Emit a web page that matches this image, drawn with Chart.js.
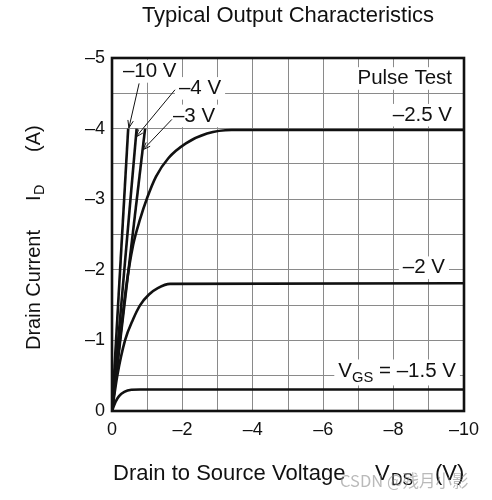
<!DOCTYPE html>
<html>
<head>
<meta charset="utf-8">
<script src="https://cdn.jsdelivr.net/npm/chart.js@4/dist/chart.umd.min.js"></script>
<style>
  html, body { margin: 0; padding: 0; background: #fff; }
  #wrap { width: 492px; height: 500px; }
</style>
</head>
<body>
<div id="wrap"><canvas id="chart" width="492" height="500"></canvas></div>
<script>
// Typical output characteristics: I_D vs V_DS for several V_GS
const vgs15X = [0, -0.1, -0.2, -0.35, -0.55, -0.8, -10];
const vgs15Y = [0, -0.13, -0.21, -0.27, -0.3, -0.305, -0.305];

const vgs20X = [0, -0.15, -0.37, -0.6, -0.8, -1.05, -1.3, -1.65, -10];
const vgs20Y = [0, -0.5, -1.0, -1.3, -1.5, -1.65, -1.74, -1.8, -1.81];

const vgs25X = [0, -0.2, -0.4, -0.6, -0.8, -1.0, -1.25, -1.6, -2.1, -2.7, -3.4, -10];
const vgs25Y = [0, -0.9, -1.75, -2.35, -2.72, -3.02, -3.32, -3.58, -3.79, -3.93, -3.98, -3.98];

const vgs30X = [0, -0.94];
const vgs30Y = [0, -4.0];
const vgs40X = [0, -0.7];
const vgs40Y = [0, -4.0];
const vgs100X = [0, -0.46];
const vgs100Y = [0, -4.0];

const xTicks = [0, -2, -4, -6, -8, -10];
const yTicks = [0, -1, -2, -3, -4, -5];

// curve labels: [text, x, y, align]
const curveLabels = [
  ['Pulse Test', -9.66, -4.71, 'right'],
  ['\u20132.5 V', -9.66, -4.19, 'right'],
  ['\u20132 V', -9.46, -2.03, 'right'],
  ['\u201310 V', -1.07, -4.81, 'center'],
  ['\u20134 V', -2.5, -4.57, 'center'],
  ['\u20133 V', -2.33, -4.18, 'center']
];
// arrows: [fromX, fromY, toX, toY]
const arrows = [
  [-0.77, -4.64, -0.48, -4.01],
  [-1.79, -4.55, -0.68, -3.88],
  [-1.70, -4.13, -0.88, -3.70]
];

const FONT = "'Liberation Sans', Arial, sans-serif";
const dash = v => v === 0 ? '0' : '\u2013' + Math.abs(v);

function pts(xs, ys) {
  return xs.map((x, i) => ({ x: x, y: ys[i] }));
}

function curve(xs, ys) {
  return {
    data: pts(xs, ys),
    showLine: true,
    borderColor: '#111',
    borderWidth: 2.6,
    pointRadius: 0,
    cubicInterpolationMode: xs.length > 2 ? 'monotone' : 'default'
  };
}

// text pieces placed at their own offsets, some as subscripts
function drawParts(ctx, parts, y, size) {
  parts.forEach(p => {
    const s = p.sub ? size * 0.72 : size;
    ctx.font = s + 'px ' + FONT;
    ctx.fillText(p.t, p.x, p.sub ? y + size * 0.3 : y);
  });
}

function labelBox(ctx, text, px, py, align, size) {
  ctx.font = size + 'px ' + FONT;
  const w = ctx.measureText(text).width;
  const left = align === 'right' ? px - w : align === 'center' ? px - w / 2 : px;
  ctx.fillStyle = '#fff';
  ctx.fillRect(left - 4, py - size * 0.55, w + 8, size * 1.1);
  ctx.fillStyle = '#111';
  ctx.textAlign = 'left';
  ctx.textBaseline = 'middle';
  ctx.fillText(text, left, py);
}

const decor = {
  id: 'decor',
  beforeDatasetsDraw(chart) {
    const { ctx, scales: { x, y } } = chart;
    ctx.save();
    curveLabels.forEach(l => {
      labelBox(ctx, l[0], x.getPixelForValue(l[1]), y.getPixelForValue(l[2]), l[3], 20.5);
    });
    // V_GS = -1.5 V label
    const rx = x.getPixelForValue(-9.77);
    const cy = y.getPixelForValue(-0.56);
    ctx.font = '20.5px ' + FONT;
    const tail = ' = \u20131.5 V';
    const wTail = ctx.measureText(tail).width;
    const wV = ctx.measureText('V').width;
    ctx.font = (20.5 * 0.72) + 'px ' + FONT;
    const wSub = ctx.measureText('GS').width;
    const left = rx - wTail - wSub - wV;
    ctx.fillStyle = '#fff';
    ctx.fillRect(left - 4, cy - 12, rx - left + 8, 26);
    ctx.fillStyle = '#111';
    ctx.textAlign = 'left';
    ctx.textBaseline = 'middle';
    drawParts(ctx, [
      { t: 'V', x: left },
      { t: 'GS', x: left + wV, sub: true },
      { t: tail, x: left + wV + wSub }
    ], cy, 20.5);
    ctx.restore();
  },
  afterDatasetsDraw(chart) {
    const { ctx, chartArea: a, scales: { x, y } } = chart;
    ctx.save();
    ctx.strokeStyle = '#111';
    ctx.lineWidth = 1;
    arrows.forEach(r => {
      const x0 = x.getPixelForValue(r[0]), y0 = y.getPixelForValue(r[1]);
      const x1 = x.getPixelForValue(r[2]), y1 = y.getPixelForValue(r[3]);
      const ang = Math.atan2(y1 - y0, x1 - x0);
      ctx.beginPath();
      ctx.moveTo(x0, y0);
      ctx.lineTo(x1, y1);
      ctx.moveTo(x1 - 8 * Math.cos(ang - 0.35), y1 - 8 * Math.sin(ang - 0.35));
      ctx.lineTo(x1, y1);
      ctx.lineTo(x1 - 8 * Math.cos(ang + 0.35), y1 - 8 * Math.sin(ang + 0.35));
      ctx.stroke();
    });
    // frame
    ctx.lineWidth = 2.6;
    ctx.strokeRect(a.left, a.top, a.right - a.left, a.bottom - a.top);
    ctx.restore();
  },
  afterDraw(chart) {
    const { ctx, chartArea: a } = chart;
    ctx.save();
    ctx.fillStyle = '#111';
    ctx.textBaseline = 'middle';
    ctx.textAlign = 'center';
    ctx.font = '22px ' + FONT;
    ctx.fillText('Typical Output Characteristics', (a.left + a.right) / 2, 16);

    ctx.textAlign = 'left';
    drawParts(ctx, [
      { t: 'Drain to Source Voltage', x: 113 },
      { t: 'V', x: 375 },
      { t: 'DS', x: 391, sub: true },
      { t: '(V)', x: 435 }
    ], 474, 22);

    // rotated y title: local x = -screenY
    ctx.translate(34, 0);
    ctx.rotate(-Math.PI / 2);
    drawParts(ctx, [
      { t: 'Drain Current', x: -350 },
      { t: 'I', x: -201 },
      { t: 'D', x: -195, sub: true },
      { t: '(A)', x: -152 }
    ], 0, 20);
    ctx.restore();

    ctx.save();
    ctx.fillStyle = 'rgba(140,140,140,0.6)';
    ctx.textBaseline = 'middle';
    ctx.font = "16.5px 'Noto Sans CJK SC', " + FONT;
    ctx.fillText('CSDN @残月小影', 340, 481);
    ctx.restore();
  }
};

new Chart(document.getElementById('chart'), {
  type: 'scatter',
  data: {
    datasets: [
      curve(vgs15X, vgs15Y),
      curve(vgs20X, vgs20Y),
      curve(vgs25X, vgs25Y),
      curve(vgs30X, vgs30Y),
      curve(vgs40X, vgs40Y),
      curve(vgs100X, vgs100Y)
    ]
  },
  options: {
    responsive: false,
    animation: false,
    devicePixelRatio: 1,
    layout: { padding: { top: 58, right: 28, left: 0, bottom: 0 } },
    plugins: { legend: { display: false }, tooltip: { enabled: false } },
    scales: {
      x: {
        type: 'linear',
        min: -10, max: 0, reverse: true,
        afterFit: s => { s.height = 89; },
        grid: { color: '#8a8a8a', lineWidth: 1, drawTicks: false },
        border: { display: false },
        ticks: {
          stepSize: 1, padding: 8, color: '#111',
          font: { family: FONT, size: 18 },
          maxRotation: 0, autoSkip: false,
          callback: v => xTicks.includes(v) ? dash(v) : ''
        }
      },
      y: {
        type: 'linear',
        min: -5, max: 0, reverse: true,
        afterFit: s => { s.width = 112; },
        grid: { color: '#8a8a8a', lineWidth: 1, drawTicks: false },
        border: { display: false },
        ticks: {
          stepSize: 0.5, padding: 7, color: '#111',
          font: { family: FONT, size: 18 },
          autoSkip: false,
          callback: v => yTicks.includes(v) ? dash(v) : ''
        }
      }
    }
  },
  plugins: [decor]
});
</script>
</body>
</html>
